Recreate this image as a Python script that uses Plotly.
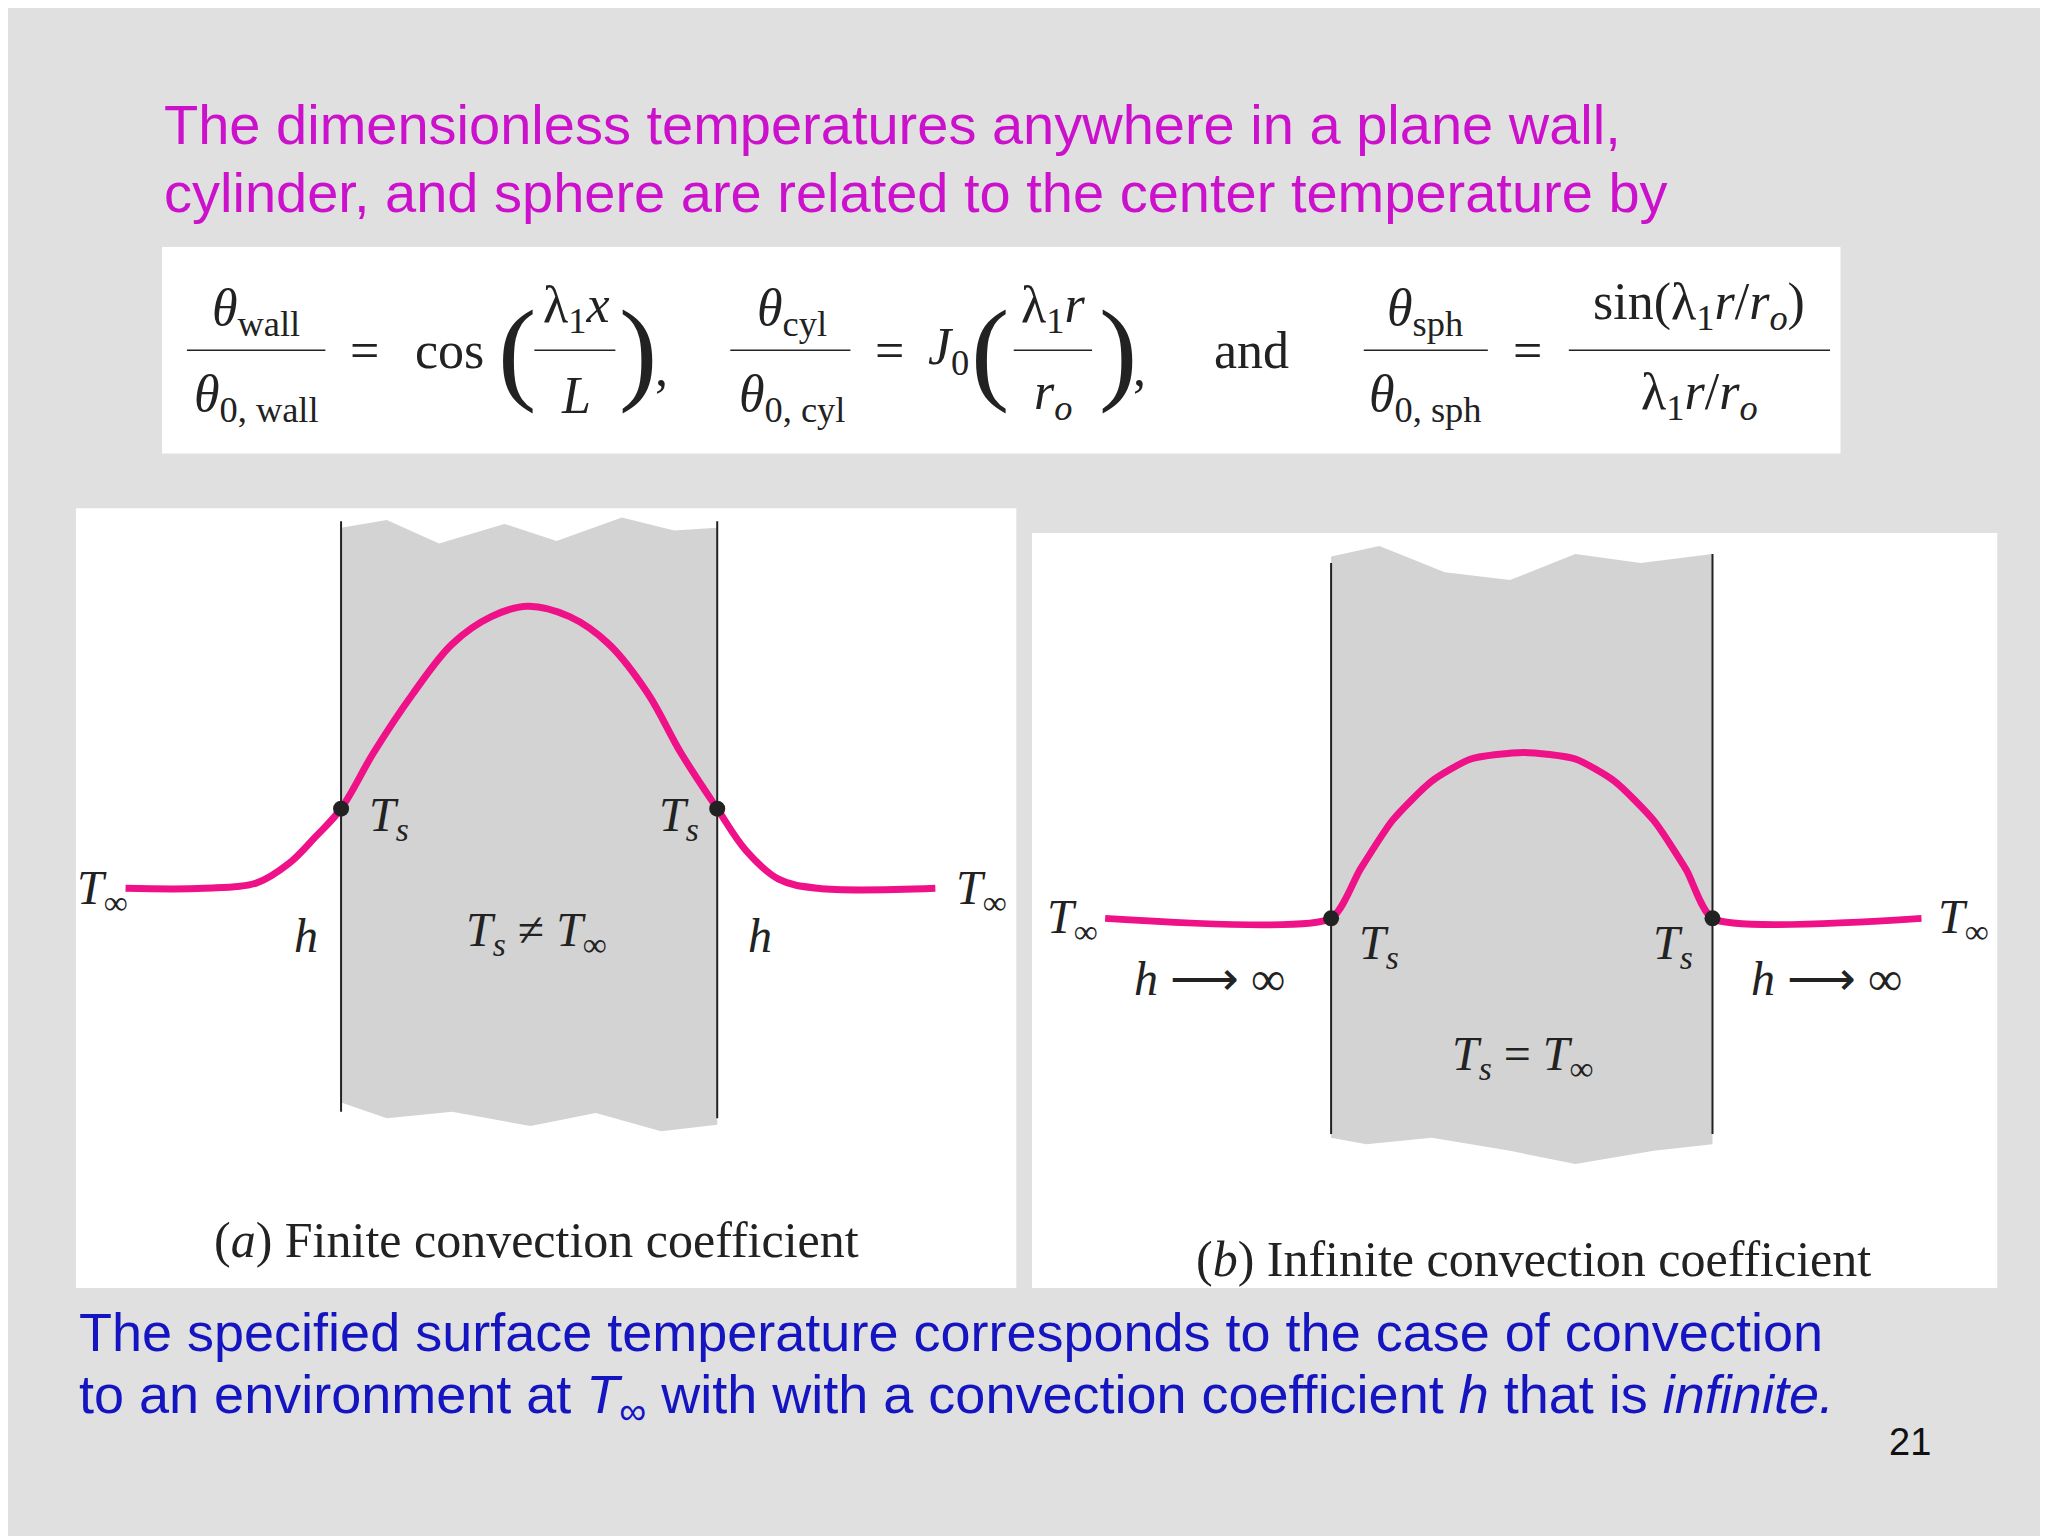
import plotly.graph_objects as go

# curve samples (image px, y down)
wall_a_x = [90, 150, 190, 215, 235, 255, 280, 310, 340, 370, 398, 430, 460, 490, 515, 543, 565, 590, 620, 710]
wall_a_y = [674, 674, 670, 655, 635, 613, 570, 525, 487, 466, 458, 466, 487, 525, 570, 613, 645, 667, 674, 674]
wall_b_x = [840, 1013, 1035, 1060, 1090, 1120, 1160, 1200, 1230, 1260, 1285, 1305, 1465]
wall_b_y = [697, 697, 660, 622, 592, 575, 570, 575, 592, 622, 660, 697, 697]
dots_x = [255, 543, 1013, 1305]
dots_y = [613, 613, 697, 697]

title_lines = ["The dimensionless temperatures anywhere in a plane wall,",
               "cylinder, and sphere are related to the center temperature by"]
bottom_lines = ["The specified surface temperature corresponds to the case of convection",
                "to an environment at <i>T</i><sub>∞</sub> with with a convection coefficient <i>h</i> that is <i>infinite.</i>"]

PINK = "#ee1188"
SERIF = "Liberation Serif"
SANS = "Liberation Sans"

fig = go.Figure()
fig.add_trace(go.Scatter(x=wall_a_x, y=wall_a_y, mode="lines", line=dict(color=PINK, width=7, shape="spline")))
fig.add_trace(go.Scatter(x=wall_b_x, y=wall_b_y, mode="lines", line=dict(color=PINK, width=7, shape="spline", smoothing=0.6)))
fig.add_trace(go.Scatter(x=dots_x, y=dots_y, mode="markers", marker=dict(color="#222", size=16)))

shapes = []
def rect(x0, y0, x1, y1, color):
    shapes.append(dict(type="rect", x0=x0, y0=y0, x1=x1, y1=y1, fillcolor=color, line_width=0, layer="below"))

rect(118, 183, 1403, 341, "white")
rect(52, 383, 772, 980, "white")
rect(784, 402, 1523, 980, "white")

def poly(pts, color):
    d = "M" + " L".join(f"{x},{y}" for x, y in pts) + " Z"
    shapes.append(dict(type="path", path=d, fillcolor=color, line_width=0, layer="below"))

poly([(255, 398), (290, 392), (330, 410), (380, 395), (420, 408), (470, 390), (510, 400), (543, 398),
      (543, 855), (500, 860), (450, 846), (400, 856), (340, 845), (290, 850), (255, 838)], "#d3d3d3")
poly([(1013, 420), (1050, 412), (1100, 432), (1150, 438), (1200, 418), (1250, 425), (1305, 418),
      (1305, 870), (1260, 875), (1200, 885), (1150, 875), (1090, 865), (1040, 870), (1013, 865)], "#d3d3d3")

for x, y0, y1 in [(255, 393, 845), (543, 393, 850), (1013, 425, 862), (1305, 418, 862)]:
    shapes.append(dict(type="line", x0=x, x1=x, y0=y0, y1=y1, line=dict(color="#222", width=2)))

# fraction bars
for x0, x1 in [(137, 243), (403, 465), (553, 645), (770, 830), (1038, 1133), (1195, 1395)]:
    shapes.append(dict(type="line", x0=x0, x1=x1, y0=262, y1=262, line=dict(color="#222", width=1.5)))

ann = []
def t(x, y, s, size, color="#222", font=SERIF, xa="center"):
    ann.append(dict(x=x, y=y, text=s, showarrow=False, xanchor=xa, yanchor="middle",
                    font=dict(size=size, color=color, family=font)))

for i, s in enumerate(title_lines):
    t(118, 89 + 52 * i, s, 56, "#cc11cc", SANS, "left")
for i, s in enumerate(bottom_lines):
    t(53, 1014 + 50 * i, s, 54, "#1414c0", SANS, "left")
t(1456, 1098, "21", 38, "#111", SANS)

F = 52
t(190, 232, "<i>θ</i><sub>wall</sub>", F)
t(190, 298, "<i>θ</i><sub>0, wall</sub>", F)
t(273, 262, "=", F)
t(338, 262, "cos", F)
t(390, 262, "(", 115)
t(482, 262, ")", 115)
t(435, 230, "λ<sub>1</sub><i>x</i>", F)
t(435, 297, "<i>L</i>", F)
t(500, 275, ",", F)
t(600, 232, "<i>θ</i><sub>cyl</sub>", F)
t(600, 298, "<i>θ</i><sub>0, cyl</sub>", F)
t(675, 262, "=", F)
t(720, 262, "<i>J</i><sub>0</sub>", F)
t(752, 262, "(", 115)
t(850, 262, ")", 115)
t(800, 230, "λ<sub>1</sub><i>r</i>", F)
t(800, 297, "<i>r<sub>o</sub></i>", F)
t(866, 275, ",", F)
t(952, 262, "and", F)
t(1085, 232, "<i>θ</i><sub>sph</sub>", F)
t(1085, 298, "<i>θ</i><sub>0, sph</sub>", F)
t(1163, 262, "=", F)
t(1295, 228, "sin(λ<sub>1</sub><i>r</i>/<i>r<sub>o</sub></i>)", F)
t(1295, 297, "λ<sub>1</sub><i>r</i>/<i>r<sub>o</sub></i>", F)

L = 48
Tinf = "<i>T</i><sub>∞</sub>"
Ts = "<i>T<sub>s</sub></i>"
t(72, 676, Tinf, L); t(745, 676, Tinf, L)
t(292, 620, Ts, L); t(514, 620, Ts, L)
t(228, 710, "<i>h</i>", L); t(576, 710, "<i>h</i>", L)
t(405, 708, Ts + " ≠ " + Tinf, L)
t(815, 698, Tinf, L); t(1497, 698, Tinf, L)
t(1050, 718, Ts, L); t(1275, 718, Ts, L)
t(920, 743, "<i>h</i> ⟶ ∞", L); t(1392, 743, "<i>h</i> ⟶ ∞", L)
t(1160, 803, Ts + " = " + Tinf, L)
t(405, 943, "(<i>a</i>) Finite convection coefficient", 50)
t(1168, 958, "(<i>b</i>) Infinite convection coefficient", 50)

fig.update_layout(
    width=2048, height=1536, margin=dict(l=0, r=0, t=0, b=0),
    paper_bgcolor="#e0e0e0", plot_bgcolor="#e0e0e0", showlegend=False,
    xaxis=dict(range=[0, 1568], visible=False, fixedrange=True),
    yaxis=dict(range=[1176, 0], visible=False, fixedrange=True),
    shapes=shapes, annotations=ann,
)
fig.write_html("out.html")
